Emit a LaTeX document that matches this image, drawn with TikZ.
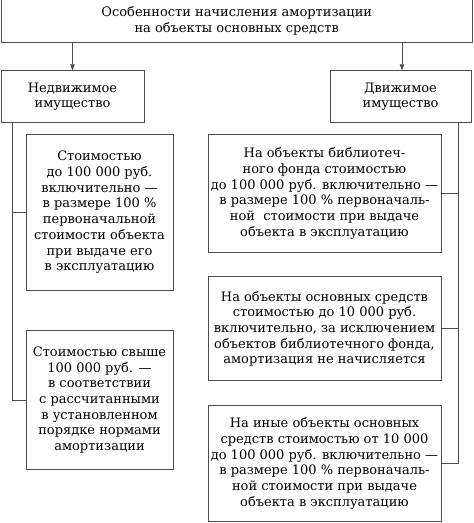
\documentclass[tikz,border=0pt]{standalone}
\usepackage{fontspec}
\setmainfont{DejaVu Serif}
\usetikzlibrary{arrows.meta}
\begin{document}
\begin{tikzpicture}[x=1pt,y=-1pt,
  box/.style={draw=black!70,line width=0.9pt,rectangle,inner sep=0pt,align=center,
    text=black,font=\fontsize{13}{15.7}\selectfont},
  conn/.style={draw=black!70,line width=0.9pt},
  arr/.style={conn,-{Triangle[length=6pt,width=4.5pt]}}]
\useasboundingbox (0,0) rectangle (474,523);
\fill[white] (0,0) rectangle (474,523);
\node[box,minimum width=471.5pt,minimum height=43pt] (top) at (236.75,20.5)
  {Особенности начисления амортизации\\на объекты основных средств};
\node[box,minimum width=143pt,minimum height=52pt] (L0) at (72.5,96.7)
  {Недвижимое\\имущество};
\node[box,minimum width=141pt,minimum height=52pt] (R0) at (400.5,96.7)
  {Движимое\\имущество};
\node[box,minimum width=147pt,minimum height=156.7pt] (L1) at (99.5,212.4)
  {Стоимостью\\до 100 000 руб.\\включительно —\\в размере 100 \%\\первоначальной\\стоимости объекта\\при выдаче его\\в эксплуатацию};
\node[box,minimum width=147pt,minimum height=138.6pt] (L2) at (99.5,400)
  {Стоимостью свыше\\100 000 руб. —\\в соответствии\\с рассчитанными\\в установленном\\порядке нормами\\амортизации};
\node[box,minimum width=233pt,minimum height=118.7pt] (R1) at (324.5,193.4)
  {На объекты библиотеч-\\ного фонда стоимостью\\до 100 000 руб. включительно —\\в размере 100 \% первоначаль-\\ной\ \ стоимости при выдаче\\объекта в эксплуатацию};
\node[box,minimum width=233pt,minimum height=104pt] (R2) at (324.5,328.7)
  {На объекты основных средств\\стоимостью до 10 000 руб.\\включительно, за исключением\\объектов библиотечного фонда,\\амортизация не начисляется};
\node[box,minimum width=233pt,minimum height=116.7pt] (R3) at (324.5,463.4)
  {На иные объекты основных\\средств стоимостью от 10 000\\до 100 000 руб. включительно —\\в размере 100 \% первоначаль-\\ной стоимости при выдаче\\объекта в эксплуатацию};
\draw[arr] (L0.north |- top.south) -- (L0.north);
\draw[arr] ([xshift=1.5pt]R0.north |- top.south) -- ([xshift=1.5pt]R0.north);
\coordinate (lt) at (12,122.7);
\coordinate (rt) at (458,122.7);
\draw[conn] (lt) |- (L2.west);
\draw[conn] (lt |- L1.west) -- (L1.west);
\draw[conn] (rt) |- (R3.east);
\draw[conn] (rt |- R1.east) -- (R1.east);
\draw[conn] (rt |- R2.east) -- (R2.east);
\end{tikzpicture}
\end{document}
